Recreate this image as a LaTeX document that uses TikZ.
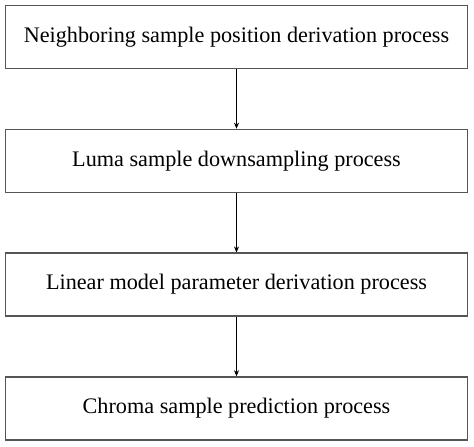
\documentclass[tikz,border=0pt]{standalone}
\usepackage{fontspec}
\setmainfont{Liberation Serif}
\usetikzlibrary{positioning,arrows.meta}
\definecolor{boxgray}{RGB}{85,85,85}
\tikzset{
  procbox/.style={draw=boxgray, line width=1.3pt, minimum width=462pt, minimum height=63pt,
    inner sep=0pt, font=\fontsize{22.2}{26}\selectfont},
  flow/.style={-{Stealth[length=6pt,width=5pt]}, black, line width=0.7pt}
}
\begin{document}
\begin{tikzpicture}[x=1pt, y=1pt, node distance=59.5pt]
    \useasboundingbox (0,0) rectangle (474,-447);

    \node[procbox] (neighbor) at (236.5,-37) {Neighboring sample position derivation process};
    \node[procbox, below=of neighbor] (luma) {Luma sample downsampling process};
    \node[procbox, below=of luma] (linear) {Linear model parameter derivation process};
    \node[procbox, below=of linear] (chroma) {Chroma sample prediction process};

    \draw[flow] (neighbor) -- (luma);
    \draw[flow] (luma) -- (linear);
    \draw[flow] (linear) -- (chroma);
\end{tikzpicture}
\end{document}
